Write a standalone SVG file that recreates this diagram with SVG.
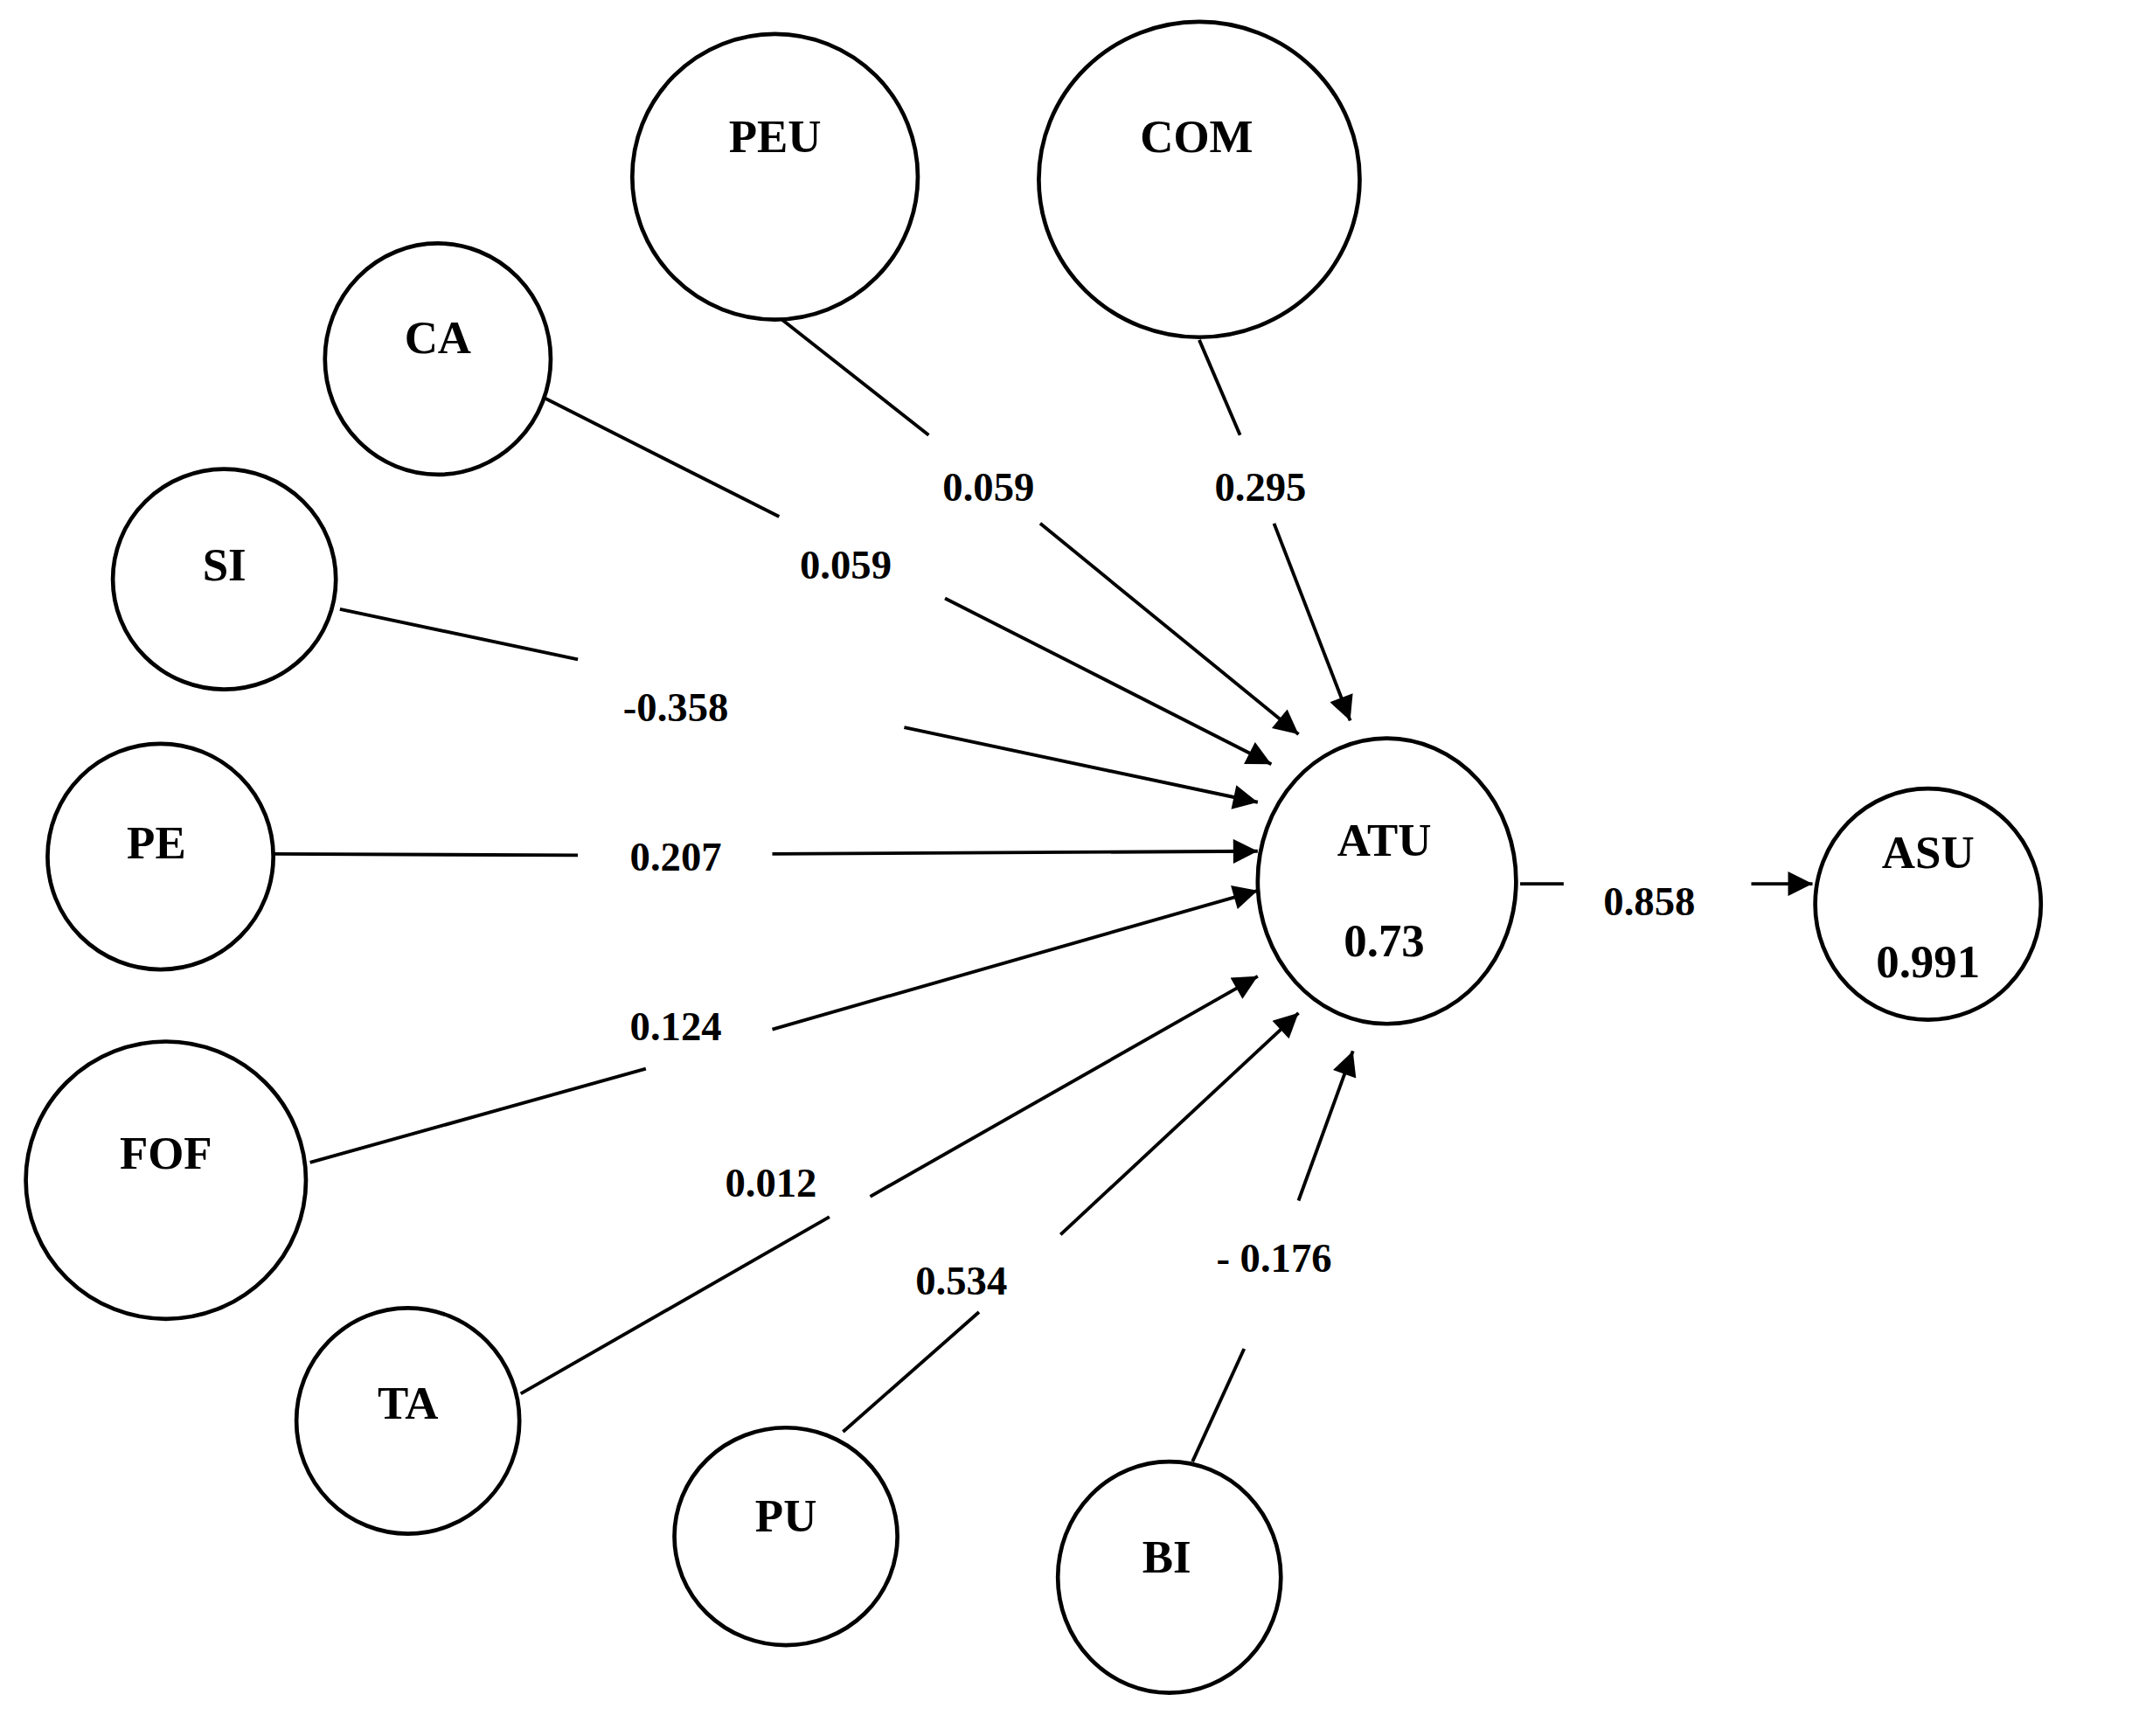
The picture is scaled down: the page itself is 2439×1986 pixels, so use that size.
<svg xmlns="http://www.w3.org/2000/svg" width="2439" height="1986" viewBox="0 0 2439 1986">
<defs>
<marker id="ah" viewBox="0 0 10 10" refX="10" refY="5" markerWidth="20" markerHeight="18" markerUnits="userSpaceOnUse" orient="auto"><path d="M0,0 L10,5 L0,10 z" fill="#000"/></marker>
<style>
.n{fill:#fff;stroke:#000;stroke-width:3}
.t{font-family:"Liberation Serif",serif;font-weight:bold;font-size:34px;text-anchor:middle;dominant-baseline:central}
.l{font-family:"Liberation Serif",serif;font-weight:bold;font-size:30px;text-anchor:middle;dominant-baseline:central}
.c line{stroke:#000;stroke-width:2.5}
.a{marker-end:url(#ah)}
</style>
</defs>
<rect width="2439" height="1986" fill="#fff"/>
<g transform="scale(1.5555)">
<g class="c" id="connectors">
<line x1="575" y1="235" x2="683" y2="320"/><line class="a" x1="765" y1="385" x2="955" y2="540"/>
<line x1="882" y1="250" x2="912" y2="320"/><line class="a" x1="937" y1="385" x2="993" y2="530"/>
<line x1="395" y1="290" x2="573" y2="380"/><line class="a" x1="695" y1="440" x2="935" y2="562"/>
<line x1="250" y1="448" x2="425" y2="485"/><line class="a" x1="665" y1="535" x2="925" y2="590"/>
<line x1="200" y1="628" x2="425" y2="629"/><line class="a" x1="568" y1="628" x2="925" y2="626"/>
<line x1="228" y1="855" x2="475" y2="786"/><line class="a" x1="568" y1="757" x2="925" y2="655"/>
<line x1="383" y1="1025" x2="610" y2="895"/><line class="a" x1="640" y1="880" x2="925" y2="718"/>
<line x1="620" y1="1053" x2="720" y2="965"/><line class="a" x1="780" y1="908" x2="955" y2="745"/>
<line x1="877" y1="1075" x2="915" y2="992"/><line class="a" x1="955" y1="883" x2="995" y2="773"/>
<line x1="1118" y1="650" x2="1150" y2="650"/><line class="a" x1="1288" y1="650" x2="1333" y2="650"/>
<text class="l" x="727" y="358">0.059</text>
<text class="l" x="927" y="358">0.295</text>
<text class="l" x="622" y="415">0.059</text>
<text class="l" x="497" y="520">-0.358</text>
<text class="l" x="497" y="630">0.207</text>
<text class="l" x="497" y="755">0.124</text>
<text class="l" x="567" y="870">0.012</text>
<text class="l" x="707" y="942">0.534</text>
<text class="l" x="937" y="925">- 0.176</text>
<text class="l" x="1213" y="663">0.858</text>
</g>
<g id="PEU"><ellipse class="n" cx="570" cy="130" rx="105" ry="105"/><text class="t" x="570" y="100">PEU</text></g>
<g id="COM"><ellipse class="n" cx="882" cy="132" rx="118" ry="116"/><text class="t" x="880" y="100">COM</text></g>
<g id="CA"><ellipse class="n" cx="322" cy="264" rx="83" ry="85"/><text class="t" x="322" y="248">CA</text></g>
<g id="SI"><ellipse class="n" cx="165" cy="426" rx="82" ry="81"/><text class="t" x="165" y="415">SI</text></g>
<g id="PE"><ellipse class="n" cx="118" cy="630" rx="83" ry="83"/><text class="t" x="115" y="620">PE</text></g>
<g id="FOF"><ellipse class="n" cx="122" cy="868" rx="103" ry="102"/><text class="t" x="122" y="848">FOF</text></g>
<g id="TA"><ellipse class="n" cx="300" cy="1045" rx="82" ry="83"/><text class="t" x="300" y="1032">TA</text></g>
<g id="PU"><ellipse class="n" cx="578" cy="1130" rx="82" ry="80"/><text class="t" x="578" y="1115">PU</text></g>
<g id="BI"><ellipse class="n" cx="860" cy="1160" rx="82" ry="85"/><text class="t" x="858" y="1145">BI</text></g>
<g id="ATU"><ellipse class="n" cx="1020" cy="648" rx="95" ry="105"/><text class="t" x="1018" y="618">ATU</text><text class="t" x="1018" y="692">0.73</text></g>
<g id="ASU"><ellipse class="n" cx="1418" cy="665" rx="83" ry="85"/><text class="t" x="1418" y="627">ASU</text><text class="t" x="1418" y="707">0.991</text></g>
</g>
</svg>
